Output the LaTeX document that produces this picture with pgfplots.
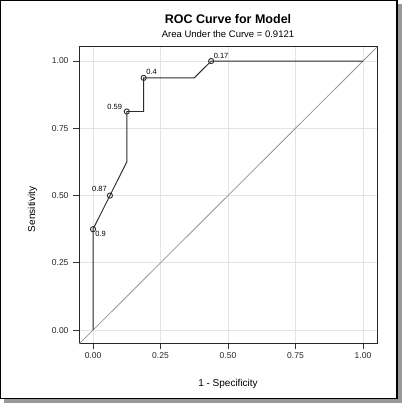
\documentclass[border=0pt]{standalone}
\usepackage{fontspec}
\setmainfont{Liberation Sans}
\usepackage{pgfplots}
\pgfplotsset{compat=1.18}
\definecolor{curve}{RGB}{45,45,45}
\definecolor{diag}{RGB}{150,150,150}
\definecolor{gridc}{RGB}{228,228,228}
\begin{document}
\begin{tikzpicture}[x=1pt,y=1pt]
\useasboundingbox (0,0) rectangle (404,404);
% frame with shadow
\fill[black!40] (4,1) rectangle (401.5,399.5);
\filldraw[fill=white,draw=black,line width=1.2pt] (0.8,5.6) rectangle (397,403.3);
\begin{axis}[
  at={(79pt,61pt)}, anchor=south west,
  scale only axis, width=298pt, height=297pt,
  xmin=-0.052, xmax=1.052, ymin=-0.048, ymax=1.056,
  xtick={0,0.25,0.5,0.75,1}, ytick={0,0.25,0.5,0.75,1},
  tick pos=left, tick align=outside,
  major tick length=6pt,
  every tick/.style={black!80, line width=0.8pt},
  axis line style={black!85, line width=0.9pt},
  grid=major, major grid style={gridc, line width=0.7pt},
  /pgf/number format/.cd, fixed, fixed zerofill, precision=2, assume math mode=true,
  /pgfplots/.cd,
  tick label style={font=\fontsize{8.5}{10}\selectfont, black!85},
  yticklabel style={xshift=-1pt},
  clip=false,
]
\addplot[diag, line width=0.8pt] coordinates {(-0.052,-0.052) (1.052,1.052)};
\addplot[curve, line width=0.95pt] coordinates {
  (0,0) (0,0.375) (0.0625,0.5) (0.125,0.625) (0.125,0.8125)
  (0.1875,0.8125) (0.1875,0.9375) (0.375,0.9375) (0.4375,1) (1,1)
};
\addplot[curve, only marks, mark=o, mark size=2.6pt, mark options={line width=0.9pt}] coordinates {
  (0,0.375) (0.0625,0.5) (0.125,0.8125) (0.1875,0.9375) (0.4375,1)
};
\begin{scope}[every node/.style={font=\fontsize{7.5}{8}\selectfont, inner sep=1pt}]
\node[anchor=north west] at (axis cs:0.004,0.37) {0.9};
\node[anchor=south east] at (axis cs:0.055,0.51) {0.87};
\node[anchor=south east] at (axis cs:0.112,0.815) {0.59};
\node[anchor=south west] at (axis cs:0.193,0.945) {0.4};
\node[anchor=south west] at (axis cs:0.443,1.005) {0.17};
\end{scope}
\end{axis}
\node[anchor=base, font=\bfseries\fontsize{12.5}{14}\selectfont] at (228,380.7) {ROC Curve for Model};
\node[anchor=base, font=\fontsize{9.5}{11}\selectfont] at (228,366.7) {Area Under the Curve = 0.9121};
\node[anchor=base, font=\fontsize{10}{12}\selectfont] at (228,17) {1 - Specificity};
\node[anchor=base, rotate=90, font=\fontsize{10}{12}\selectfont] at (35,194.5) {Sensitivity};
\end{tikzpicture}
\end{document}
